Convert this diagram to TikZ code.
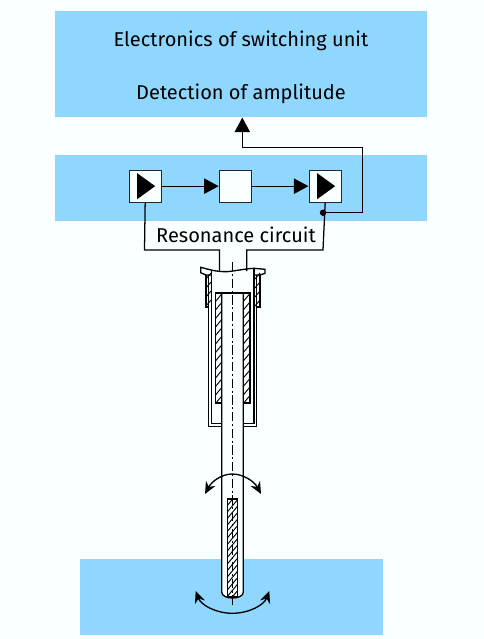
\documentclass[tikz,border=0pt]{standalone}
\usepackage{fontspec}
\setmainfont{Fira Sans}
\usepackage{xcolor}
\usetikzlibrary{arrows.meta}
\definecolor{bandBlue}{RGB}{143,215,255}
\definecolor{paleWhite}{RGB}{250,255,255}
\tikzset{
  band/.style={fill=bandBlue, draw=none},
  blockbox/.style={draw=black!85, fill=paleWhite, line width=1pt, minimum size=24pt, inner sep=0pt, anchor=north west},
  wire/.style={draw=black, line width=0.95pt},
  part/.style={draw=black, line width=1pt},
  hatchline/.style={draw=black, line width=0.7pt},
  bigtip/.style={-{Triangle[length=11pt,width=11.5pt]}},
  turn/.style={draw=black, line width=1pt, {Stealth[length=9pt,width=8pt]}-{Stealth[length=9pt,width=8pt]}},
  label/.style={font=\fontsize{15}{18}\selectfont, text=black, inner sep=0pt}
}
% left, top, right, bottom, spacing
\newcommand{\hatchrect}[5]{%
  \begin{scope}
    \clip (#1,#2) rectangle (#3,#4);
    \foreach \ii in {0,1,...,30} {
      \draw[hatchline] (#1,#2+\ii*#5) -- (#3,#2+\ii*#5-1.2*#3+1.2*#1);
    }
  \end{scope}
}
\begin{document}
\begin{tikzpicture}[x=0.75pt,y=-0.75pt]
\useasboundingbox (0,0) rectangle (484,639);
\fill[paleWhite] (0,0) rectangle (484,639);

%
\fill[band] (55,11) rectangle (427,117);
\fill[band] (55,155) rectangle (427,221);
\fill[band] (80,559) rectangle (383,635);

%
\node[label] (electronics) at (241,41) {Electronics of switching unit};
\node[label] (detection) at (241,94) {Detection of amplitude};
\node[label] (resonance) at (236,235) {Resonance circuit};

%
\node[blockbox] (ampin) at (128.5,169.5) {};
\node[blockbox] (filter) at (218.7,169.5) {};
\node[blockbox] (ampout) at (308.5,169.5) {};
\fill[shift={(ampin.center)}] (-8,-13) -- (10,0) -- (-8,13) -- cycle;
\fill[shift={(ampout.center)}] (-8,-13) -- (10,0) -- (-8,13) -- cycle;

%
\coordinate (amptop) at (242.3,117.5);
\coordinate (tapnode) at (323,212.7);
\draw[wire, bigtip] (ampin.east) -- (filter.west);
\draw[wire, bigtip] (filter.east) -- (ampout.west);
\draw[wire, bigtip] (tapnode) -- (362.3,212.7) -- (362.3,147.5) -- (242.3,147.5) -- (amptop);
\fill (tapnode) circle (3.2);

%
\coordinate (rodleft) at (219.5,271);
\coordinate (rodright) at (246.7,271);
\draw[wire] (ampin.south) -- (144.5,250) -- (219.5,250) -- (rodleft);
\draw[wire] (ampout.south) -- (323,250) -- (246.7,250) -- (rodright);

%
\hatchrect{206}{270}{211}{307}{9}
\hatchrect{255}{270}{260}{307}{9}
\draw[part] (206,275) -- (206,307) -- (208.3,307);
\draw[part] (260,275) -- (260,307) -- (256.7,307);
\draw[part] (211,270) -- (200.7,267.3) -- (200.7,272.7) -- (206,275) -- (211,275);
\draw[part] (254,268.3) -- (265,269.3) -- (265,273.3) -- (260,275) -- (254,275);

%
\draw[part] (208.3,275) -- (208.3,426.7) -- (221.7,426.7);
\draw[part] (243.3,426.7) -- (256.7,426.7) -- (256.7,275);
\draw[part] (211.7,270) -- (211.7,423.3) -- (221.7,423.3);
\draw[part] (254,268.3) -- (254,423.3) -- (243.3,423.3);
\draw[part] (211,270) .. controls (220,272) and (228,272) .. (233,271) .. controls (240,270) and (248,268.5) .. (254,268.3);

%
\hatchrect{215.5}{293}{222}{403}{8.5}
\hatchrect{243.3}{293}{250}{403}{8.5}
\draw[part] (221.7,403) -- (215.5,403) -- (215.5,293) -- (250,293) -- (250,403) -- (243.3,403);

%
\fill[paleWhite] (221.7,555) -- (243.3,555) -- (243.3,592) .. controls (243.3,596) and (238,598) .. (232.5,598) .. controls (227,598) and (221.7,596) .. (221.7,592) -- cycle;
\draw[part] (221.7,293) -- (221.7,592) .. controls (221.7,596) and (227,598) .. (232.5,598) .. controls (238,598) and (243.3,596) .. (243.3,592) -- (243.3,293);

%
\hatchrect{227.3}{499}{237.7}{597}{6.5}
\draw[part] (227.3,499) rectangle (237.7,597);

%
\draw[line width=0.6pt, dash pattern=on 7pt off 2pt on 1.5pt off 2pt] (232.3,262) -- (232.3,606);

%
\draw[turn] (205,494) .. controls (212,481) and (222,474) .. (232.3,474) .. controls (243,474) and (254,481) .. (261,494);
\draw[turn] (195.7,591) .. controls (201,605) and (216,613.3) .. (232.3,613.3) .. controls (249,613.3) and (264,605) .. (269.3,591);

\end{tikzpicture}
\end{document}
